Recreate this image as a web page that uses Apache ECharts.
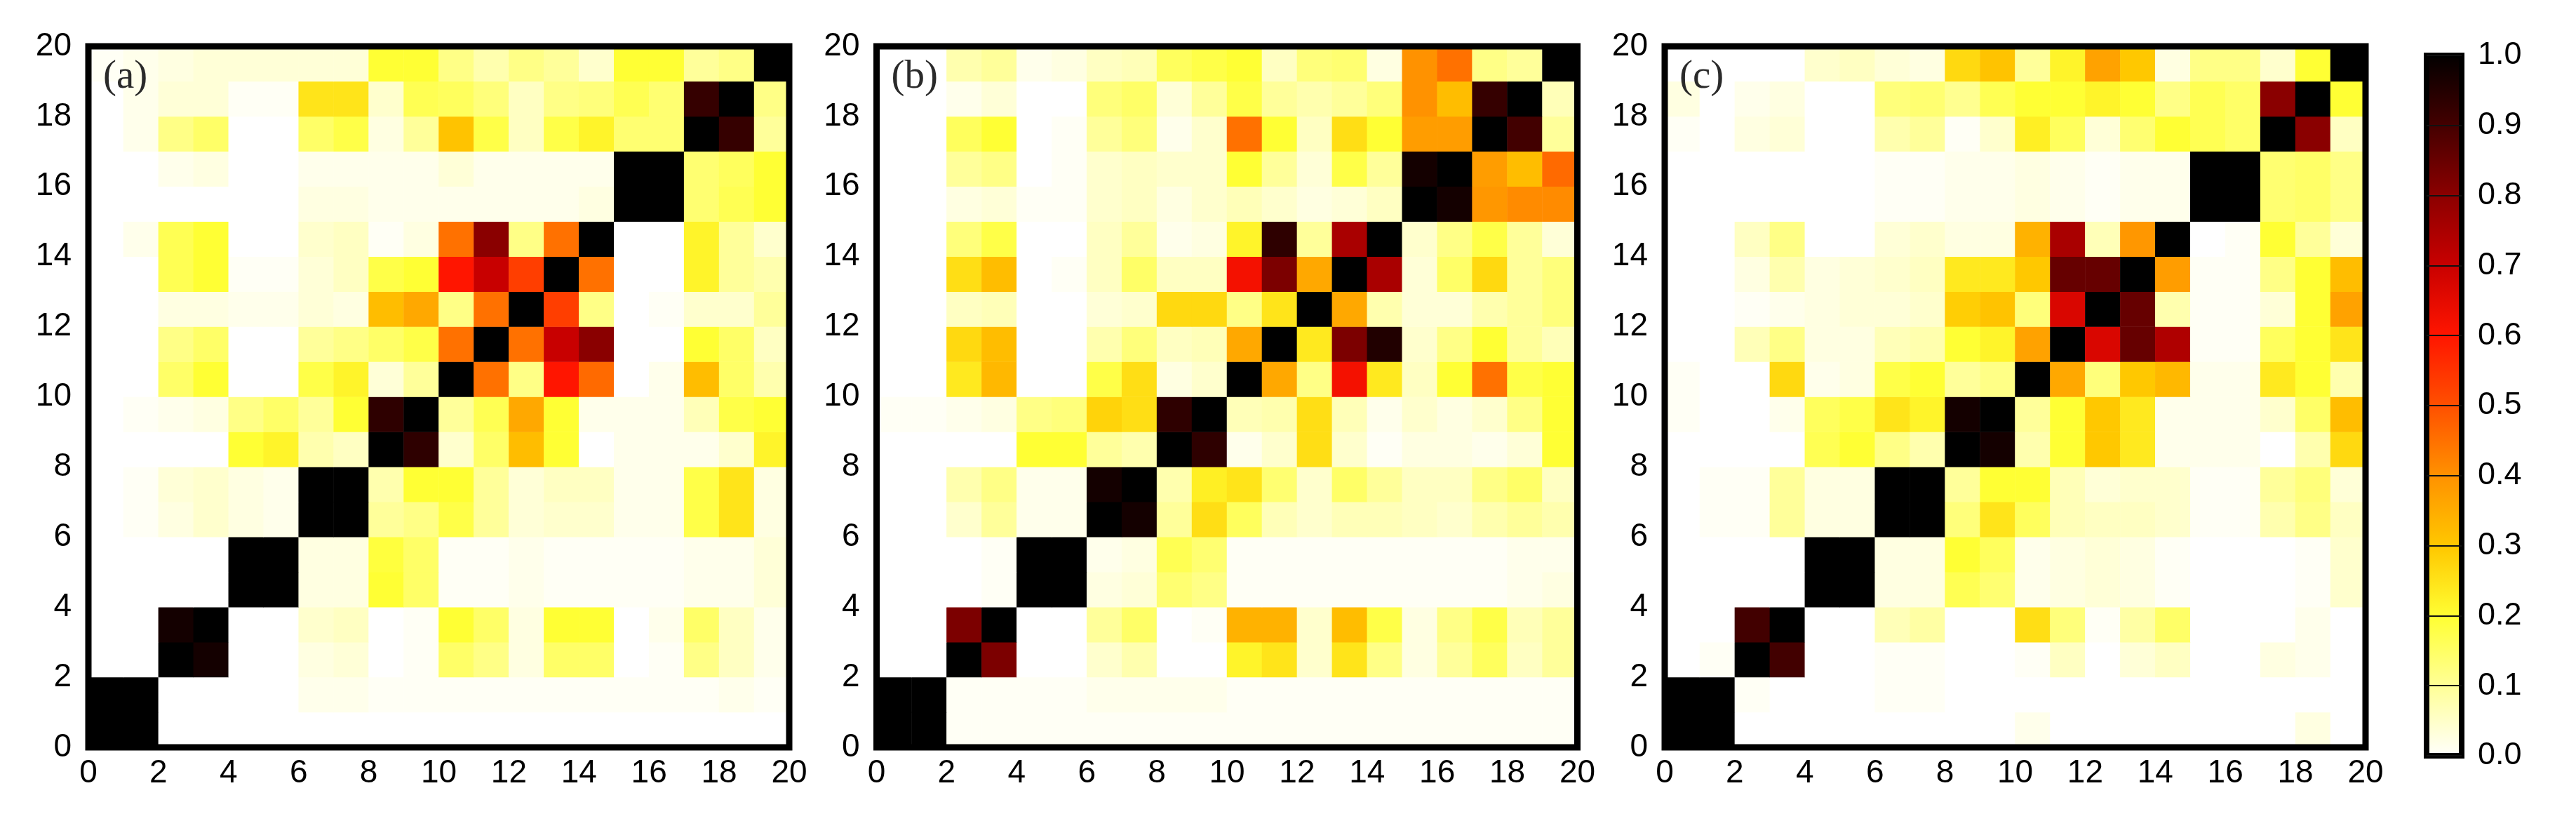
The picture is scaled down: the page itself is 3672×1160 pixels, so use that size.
<!DOCTYPE html>
<html>
<head>
<meta charset="utf-8">
<script src="https://cdn.jsdelivr.net/npm/echarts@6/dist/echarts.min.js"></script>
<style>
html,body{margin:0;padding:0;background:#fff;}
#chart{width:3672px;height:1160px;}
</style>
</head>
<body>
<div id="chart"></div>
<script>
// ---------- DATA ----------
const cellCategories = ['0','1','2','3','4','5','6','7','8','9','10','11','12','13','14','15','16','17','18','19'];
const panelLabels = ['(a)', '(b)', '(c)'];
const axisMin = 0, axisMax = 20, axisStep = 2;
const barMin = 0, barMax = 1, barStep = 0.1;

// rows listed from y = 0 (bottom) to y = 19 (top); each row holds x = 0..19
const valuesA = [
  [1,1,0,0,0,0,0,0,0,0,0,0,0,0,0,0,0,0,0,0],
  [1,1,0,0,0,0,0.02,0.02,0.01,0.01,0.01,0.01,0.01,0.01,0.01,0.01,0.01,0.01,0.02,0.01],
  [0,0,1,0.97,0,0,0.03,0.04,0,0.01,0.15,0.12,0.03,0.15,0.15,0,0.01,0.12,0.06,0.02],
  [0,0,0.97,1,0,0,0.05,0.06,0,0.01,0.2,0.15,0.03,0.2,0.2,0,0.02,0.15,0.06,0.02],
  [0,0,0,0,1,1,0.03,0.03,0.2,0.15,0.01,0.01,0.02,0.01,0.01,0.01,0.01,0.02,0.02,0.04],
  [0,0,0,0,1,1,0.03,0.03,0.19,0.15,0.01,0.01,0.02,0.01,0.01,0.01,0.01,0.02,0.02,0.04],
  [0,0.01,0.03,0.05,0.03,0.02,1,1,0.1,0.12,0.18,0.1,0.04,0.05,0.05,0.02,0.02,0.18,0.25,0.03],
  [0,0.01,0.04,0.05,0.03,0.02,1,1,0.08,0.2,0.2,0.1,0.04,0.06,0.06,0.02,0.02,0.18,0.25,0.03],
  [0,0,0,0,0.2,0.22,0.08,0.06,1,0.93,0.05,0.15,0.32,0.2,0,0.02,0.02,0.02,0.05,0.22],
  [0,0.01,0.02,0.03,0.12,0.15,0.1,0.2,0.93,1,0.1,0.17,0.36,0.2,0.02,0.02,0.02,0.07,0.18,0.2],
  [0,0,0.15,0.2,0,0,0.18,0.22,0.04,0.1,1,0.45,0.12,0.6,0.46,0,0.02,0.32,0.15,0.08],
  [0,0,0.12,0.15,0,0,0.1,0.12,0.15,0.18,0.45,1,0.45,0.7,0.8,0,0,0.2,0.15,0.06],
  [0,0,0.03,0.03,0.02,0.02,0.04,0.03,0.32,0.36,0.12,0.45,1,0.53,0.12,0,0.01,0.05,0.05,0.1],
  [0,0,0.17,0.2,0.01,0.01,0.04,0.06,0.18,0.2,0.6,0.7,0.53,1,0.45,0,0,0.22,0.1,0.08],
  [0,0.02,0.17,0.2,0,0,0.05,0.06,0.01,0.03,0.45,0.8,0.12,0.45,1,0,0,0.22,0.1,0.05],
  [0,0,0,0,0,0,0.03,0.03,0.02,0.02,0.02,0.02,0.02,0.02,0.03,1,1,0.14,0.17,0.2],
  [0,0,0.02,0.03,0,0,0.02,0.02,0.02,0.02,0.04,0.02,0.02,0.02,0.02,1,1,0.14,0.16,0.2],
  [0,0.02,0.12,0.15,0,0,0.15,0.18,0.03,0.1,0.31,0.18,0.06,0.18,0.22,0.14,0.14,1,0.92,0.1],
  [0,0.02,0.04,0.04,0.01,0.01,0.25,0.25,0.05,0.17,0.16,0.13,0.06,0.12,0.13,0.17,0.14,0.92,1,0.12],
  [0.01,0.02,0.03,0.04,0.04,0.04,0.04,0.04,0.2,0.2,0.12,0.08,0.12,0.1,0.05,0.2,0.2,0.1,0.12,1]
];

const valuesB = [
  [1,1,0.01,0.01,0.01,0.01,0.01,0.01,0.01,0.01,0.01,0.01,0.01,0.01,0.01,0.01,0.01,0.01,0.01,0.01],
  [1,1,0.01,0.01,0.01,0.01,0.02,0.02,0.02,0.02,0.01,0.01,0.01,0.01,0.01,0.01,0.01,0.01,0.01,0.01],
  [0,0,1,0.82,0,0,0.05,0.08,0,0,0.22,0.25,0.05,0.25,0.12,0.03,0.1,0.16,0.06,0.1],
  [0,0,0.82,1,0,0,0.1,0.15,0,0.01,0.34,0.34,0.05,0.32,0.18,0.03,0.12,0.18,0.07,0.1],
  [0,0,0,0.01,1,1,0.03,0.04,0.14,0.12,0.01,0.01,0.01,0.01,0.01,0.01,0.01,0.01,0.02,0.03],
  [0,0,0,0.01,1,1,0.02,0.03,0.17,0.14,0.01,0.01,0.01,0.01,0.01,0.01,0.01,0.01,0.02,0.02],
  [0,0,0.05,0.1,0.02,0.02,1,0.97,0.1,0.26,0.16,0.07,0.05,0.07,0.07,0.06,0.05,0.08,0.1,0.08],
  [0,0,0.08,0.12,0.02,0.02,0.97,1,0.08,0.23,0.25,0.14,0.05,0.15,0.1,0.06,0.06,0.12,0.15,0.06],
  [0,0,0,0,0.2,0.2,0.1,0.08,1,0.93,0.02,0.05,0.26,0.05,0.01,0.03,0.03,0.02,0.04,0.2],
  [0.01,0.01,0.02,0.03,0.12,0.13,0.28,0.26,0.93,1,0.07,0.08,0.26,0.07,0.02,0.05,0.03,0.05,0.12,0.2],
  [0,0,0.24,0.33,0,0,0.18,0.26,0.03,0.05,1,0.36,0.12,0.62,0.24,0.06,0.2,0.45,0.18,0.2],
  [0,0,0.27,0.32,0,0,0.08,0.13,0.06,0.07,0.36,1,0.24,0.82,0.95,0.05,0.12,0.2,0.1,0.07],
  [0,0,0.06,0.07,0,0,0.04,0.05,0.27,0.27,0.12,0.25,1,0.36,0.08,0.04,0.04,0.08,0.1,0.13],
  [0,0,0.26,0.32,0,0.01,0.06,0.15,0.06,0.06,0.62,0.82,0.36,1,0.75,0.04,0.15,0.27,0.1,0.13],
  [0,0,0.13,0.18,0,0,0.06,0.1,0.02,0.03,0.22,0.93,0.1,0.75,1,0.05,0.12,0.18,0.1,0.04],
  [0,0,0.03,0.04,0.01,0.01,0.05,0.06,0.03,0.05,0.07,0.05,0.03,0.04,0.06,1,0.97,0.39,0.41,0.41],
  [0,0,0.1,0.12,0,0.01,0.05,0.06,0.05,0.05,0.2,0.1,0.04,0.18,0.1,0.97,1,0.38,0.32,0.46],
  [0,0,0.16,0.2,0,0.01,0.1,0.13,0.02,0.05,0.45,0.2,0.06,0.26,0.2,0.38,0.38,1,0.9,0.1],
  [0,0,0.02,0.04,0,0,0.13,0.15,0.04,0.1,0.18,0.1,0.08,0.1,0.13,0.4,0.32,0.92,1,0.07],
  [0,0,0.08,0.1,0.02,0.03,0.06,0.07,0.16,0.18,0.2,0.06,0.13,0.14,0.03,0.4,0.45,0.12,0.1,1]
];

const valuesC = [
  [1,1,0,0,0,0,0,0,0,0,0.02,0,0,0,0,0,0,0,0.03,0],
  [1,1,0.01,0,0,0,0.01,0.01,0,0,0,0,0,0,0,0,0,0,0,0],
  [0,0.01,1,0.9,0,0,0.01,0.01,0,0,0.01,0.06,0,0.04,0.06,0,0,0.03,0.02,0],
  [0,0,0.9,1,0,0,0.07,0.09,0,0,0.26,0.13,0.01,0.09,0.15,0,0,0,0.02,0],
  [0,0,0,0,1,1,0.03,0.03,0.17,0.14,0.02,0.03,0.04,0.03,0.01,0,0,0,0.01,0.05],
  [0,0,0,0,1,1,0.03,0.03,0.2,0.16,0.02,0.03,0.04,0.03,0.01,0,0,0,0.01,0.05],
  [0,0.01,0.01,0.1,0.03,0.03,1,1,0.13,0.25,0.16,0.07,0.06,0.06,0.05,0.01,0.01,0.08,0.12,0.06],
  [0,0.01,0.01,0.1,0.03,0.03,1,1,0.1,0.2,0.2,0.07,0.04,0.05,0.05,0.01,0.01,0.1,0.13,0.04],
  [0,0,0,0,0.17,0.2,0.12,0.08,1,0.97,0.08,0.2,0.3,0.24,0.02,0.02,0.02,0,0.08,0.27],
  [0.01,0,0,0.02,0.16,0.18,0.25,0.22,0.97,1,0.1,0.2,0.3,0.24,0.02,0.02,0.02,0.05,0.15,0.32],
  [0.01,0,0,0.27,0.02,0.03,0.18,0.2,0.1,0.12,1,0.36,0.13,0.3,0.33,0.02,0.02,0.24,0.2,0.08],
  [0,0,0.07,0.12,0.03,0.03,0.07,0.08,0.2,0.22,0.37,1,0.67,0.85,0.74,0.01,0.01,0.16,0.2,0.25],
  [0,0,0.01,0.02,0.03,0.04,0.04,0.05,0.29,0.31,0.13,0.67,1,0.85,0.08,0.01,0.01,0.04,0.2,0.37],
  [0,0,0.03,0.08,0.03,0.04,0.05,0.06,0.24,0.24,0.3,0.85,0.85,1,0.38,0.01,0.01,0.12,0.2,0.32],
  [0,0,0.06,0.12,0,0,0.04,0.05,0.03,0.03,0.34,0.75,0.07,0.39,1,0,0.01,0.2,0.1,0.04],
  [0,0,0,0,0,0,0.01,0.01,0.02,0.02,0.03,0.02,0.01,0.02,0.02,1,1,0.14,0.15,0.12],
  [0,0,0,0,0,0,0.01,0.01,0.02,0.02,0.03,0.02,0.01,0.02,0.02,1,1,0.14,0.15,0.12],
  [0.01,0,0.03,0.04,0,0,0.08,0.1,0.01,0.05,0.23,0.16,0.04,0.14,0.2,0.17,0.15,1,0.8,0.06],
  [0.03,0,0.02,0.03,0,0,0.13,0.14,0.11,0.17,0.2,0.2,0.22,0.2,0.12,0.17,0.15,0.8,1,0.2],
  [0,0,0,0,0.05,0.06,0.04,0.03,0.27,0.31,0.1,0.22,0.37,0.3,0.03,0.12,0.12,0.05,0.2,1]
];

// ---------- STYLE ----------
const palette = ['#ffffff','#ffff9a','#ffff34','#ffc800','#ff9200','#ff5000','#ff1500','#c80000','#8a0000','#420000','#000000'];
const tickFont = 'Liberation Sans, Arial, Helvetica, sans-serif';
const panelLeft = [126, 1249.5, 2373];
const panelTop = 66, panelSize = 999;
const bar = {left: 3459, top: 79, width: 50, height: 998};

function toCells(rows) {
  const out = [];
  rows.forEach((row, y) => row.forEach((v, x) => out.push([x, y, v])));
  return out;
}
const panels = [valuesA, valuesB, valuesC];

const grids = [], xAxes = [], yAxes = [], series = [], titles = [];
panels.forEach((rows, i) => {
  grids.push({
    left: panelLeft[i], top: panelTop, width: panelSize, height: panelSize,
    show: true, backgroundColor: 'transparent', borderColor: '#000', borderWidth: 9,
    z: 5, outerBoundsMode: 'none', containLabel: false
  });
  xAxes.push({type: 'category', gridIndex: i, data: cellCategories, show: false});
  xAxes.push({
    type: 'value', gridIndex: i, min: axisMin, max: axisMax, interval: axisStep, position: 'bottom',
    axisLine: {show: false}, axisTick: {show: false}, splitLine: {show: false},
    axisLabel: {color: '#000', fontSize: 46, fontFamily: tickFont, margin: 14, hideOverlap: false, showMinLabel: true, showMaxLabel: true}
  });
  yAxes.push({type: 'category', gridIndex: i, data: cellCategories, show: false});
  yAxes.push({
    type: 'value', gridIndex: i, min: axisMin, max: axisMax, interval: axisStep, position: 'left',
    axisLine: {show: false}, axisTick: {show: false}, splitLine: {show: false},
    axisLabel: {color: '#000', fontSize: 46, fontFamily: tickFont, margin: 24, hideOverlap: false, showMinLabel: true, showMaxLabel: true}
  });
  series.push({
    type: 'heatmap', xAxisIndex: 2 * i, yAxisIndex: 2 * i, data: toCells(rows),
    emphasis: {disabled: true}, label: {show: false}, itemStyle: {borderWidth: 0}, progressive: 0
  });
  titles.push({
    text: panelLabels[i], left: panelLeft[i] + 21, top: 82, padding: 0,
    textStyle: {fontFamily: 'Liberation Serif, Times New Roman, serif', fontSize: 57, fontWeight: 'normal', color: '#2a2a2a'}
  });
});

// colour bar
const gradStops = palette.map((c, k) => ({offset: k / (palette.length - 1), color: c}));
grids.push({
  left: bar.left, top: bar.top, width: bar.width, height: bar.height,
  show: true, borderColor: '#000', borderWidth: 8, outerBoundsMode: 'none', containLabel: false,
  backgroundColor: {type: 'linear', x: 0, y: 1, x2: 0, y2: 0, colorStops: gradStops}
});
xAxes.push({type: 'value', gridIndex: 3, min: 0, max: 1, show: false});
yAxes.push({
  type: 'value', gridIndex: 3, min: barMin, max: barMax, interval: barStep, position: 'right',
  axisLine: {show: false}, axisTick: {show: false},
  splitLine: {show: true, lineStyle: {color: '#111', width: 2}},
  axisLabel: {color: '#000', fontSize: 45, fontFamily: tickFont, margin: 23, formatter: v => v.toFixed(1), hideOverlap: false, showMinLabel: true, showMaxLabel: true}
});

const chart = echarts.init(document.getElementById('chart'), null, {renderer: 'canvas'});
chart.setOption({
  animation: false,
  backgroundColor: '#fff',
  title: titles,
  grid: grids,
  xAxis: xAxes,
  yAxis: yAxes,
  visualMap: {
    type: 'continuous', show: false, min: barMin, max: barMax, dimension: 2,
    seriesIndex: [0, 1, 2], inRange: {color: palette}
  },
  series: series
});
</script>
</body>
</html>
